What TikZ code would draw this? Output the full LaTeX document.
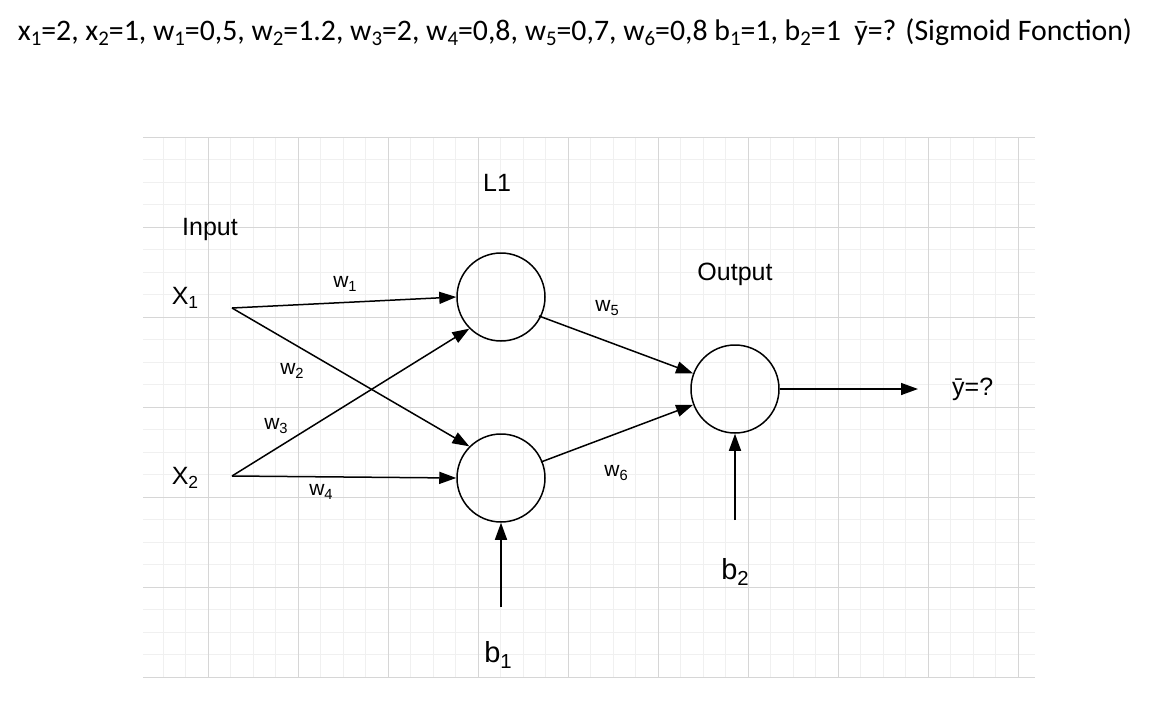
\documentclass[tikz,border=0pt]{standalone}
\usepackage{fontspec}
\setmainfont{Liberation Sans}
\newfontfamily\titlefont{Carlito}
\usetikzlibrary{arrows.meta}
\newcommand{\mysub}[1]{\raisebox{-0.35ex}{\fontsize{0.7em}{0.7em}\selectfont #1}}
\begin{document}
\begin{tikzpicture}[x=1pt,y=-1pt,
  neuron/.style={circle,draw,line width=1.5pt,minimum size=88pt,inner sep=0pt},
  conn/.style={line width=1.5pt,-{Triangle[length=17pt,width=12pt]}},
  lbl/.style={font=\fontsize{25}{25}\selectfont,inner sep=0pt},
  wl/.style={font=\fontsize{21}{21}\selectfont,inner sep=0pt},
  minor/.style={draw=black!6,line width=0.8pt},
  major/.style={draw=black!16,line width=1pt}]
\useasboundingbox (0,0) rectangle (1165,720);
\fill[white] (0,0) rectangle (1165,720);
% grid
\foreach \i in {-2,...,36} {\draw[minor] ({208+22.5*\i},137) -- ({208+22.5*\i},677);}
\foreach \i in {0,...,24} {\draw[minor] (143,{137+22.5*\i}) -- (1035,{137+22.5*\i});}
\foreach \i in {0,...,9} {\draw[major] ({208+90*\i},137) -- ({208+90*\i},677);}
\foreach \i in {0,...,6} {\draw[major] (143,{137+90*\i}) -- (1035,{137+90*\i});}
% title
\node[inner sep=0pt,font=\titlefont\fontsize{29.8}{29.8}\selectfont] (title) at (575,32)
 {x\mysub{1}=2, x\mysub{2}=1, w\mysub{1}=0,5, w\mysub{2}=1.2, w\mysub{3}=2, w\mysub{4}=0,8, w\mysub{5}=0,7, w\mysub{6}=0,8 b\mysub{1}=1, b\mysub{2}=1\ \ ȳ=? (Sigmoid Fonction)};
% labels
\node[lbl] (input) at (210,229) {Input};
\node[lbl] (l1) at (497,183) {L1};
\node[lbl] (output) at (735,274) {Output};
\node[lbl] (x1) at (185,298) {X\mysub{1}};
\node[lbl] (x2) at (185,478) {X\mysub{2}};
\coordinate (s1) at (232,308);
\coordinate (s2) at (232,476);
% neurons
\node[neuron] (h1) at (501,297) {};
\node[neuron] (h2) at (501,478) {};
\node[neuron] (o) at (735,389) {};
% connectors
\draw[conn] (s1) -- (h1.west);
\draw[conn] (s1) -- (h2.north west);
\draw[conn] (s2) -- (h1.south west);
\draw[conn] (s2) -- (h2.west);
\coordinate (h1e) at (539,316);
\coordinate (h2e) at (541,462);
\draw[conn] (h1e) -- (o);
\draw[conn] (h2e) -- (o);
\coordinate (yend) at (918,389);
\draw[conn] (o.east) -- (yend);
\node[lbl,anchor=west] (yhat) at (952,389) {ȳ=?};
\coordinate (b1s) at (501,607);
\coordinate (b2s) at (735,520);
\draw[conn] (b1s) -- (h2.south);
\draw[conn] (b2s) -- (o.south);
\node[lbl,font=\fontsize{29}{29}\selectfont] (b1) at (498,655) {b\mysub{1}};
\node[lbl,font=\fontsize{29}{29}\selectfont] (b2) at (735,572) {b\mysub{2}};
% weights
\node[wl] (w1) at (345,284) {w\mysub{1}};
\node[wl] (w2) at (292,371) {w\mysub{2}};
\node[wl] (w3) at (276,426) {w\mysub{3}};
\node[wl] (w4) at (321,492) {w\mysub{4}};
\node[wl] (w5) at (607,308) {w\mysub{5}};
\node[wl] (w6) at (616,473) {w\mysub{6}};
\end{tikzpicture}
\end{document}
